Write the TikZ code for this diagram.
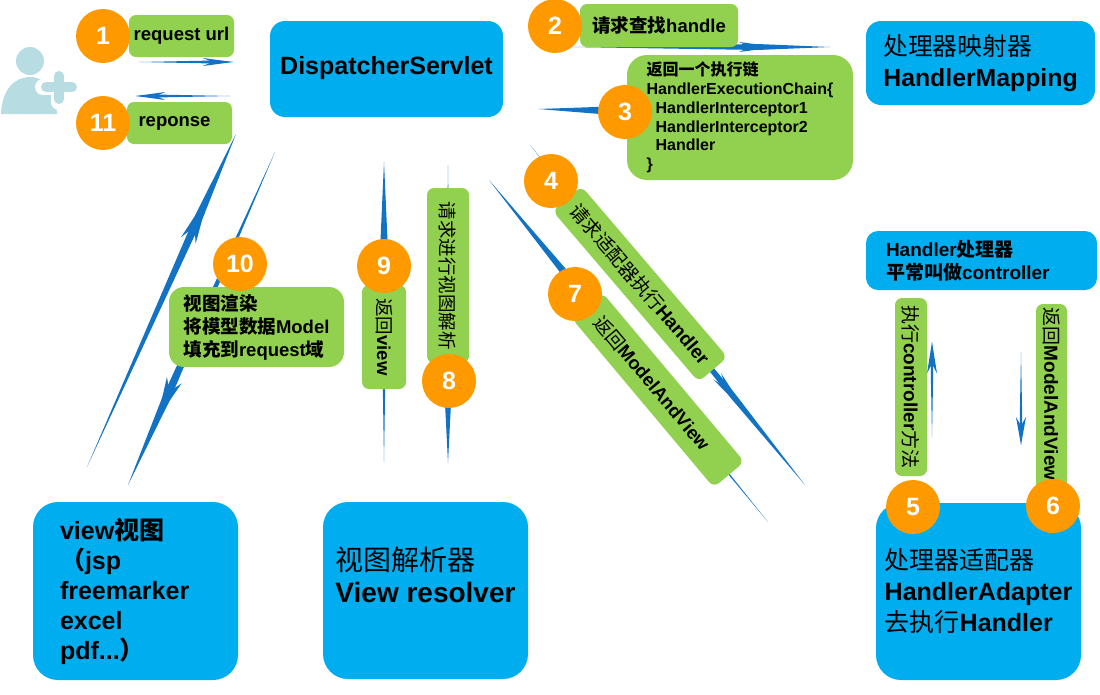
\documentclass[tikz,border=0pt]{standalone}
\usepackage{fontspec}
\setmainfont{Liberation Sans}
\newfontfamily\cjk{Noto Sans CJK SC}
\usetikzlibrary{calc}

\definecolor{boxblue}{HTML}{00AEEF}
\definecolor{boxgreen}{HTML}{92D050}
\definecolor{dotorange}{HTML}{FF9900}
\definecolor{linkblue}{HTML}{1272C4}
\definecolor{usercyan}{HTML}{B7DDE3}

\newcommand{\zh}[1]{{\cjk #1}}
\newcommand{\zhm}[1]{{\cjk\mdseries #1}}
\newcommand{\fsz}[2]{\fontsize{#1}{#2}\selectfont\bfseries}
% tapered link: ends, place of the thickest part, half width
\newcommand{\taper}[4]{\fill[linkblue] (#1) -- ($(#1)!#3!(#2)!#4!90:(#2)$) -- (#2) -- ($(#1)!#3!(#2)!#4!-90:(#2)$) -- cycle;}
% head on such a link: ends, place of barbs, place of tip, half width
\newcommand{\headon}[5]{\fill[linkblue] ($(#1)!#3!(#2)!#5!90:(#2)$) -- ($(#1)!#4!(#2)$) -- ($(#1)!#3!(#2)!#5!-90:(#2)$) -- ($(#1)!{#3+0.3*(#4-#3)}!(#2)$) -- cycle;}

\tikzset{
  bluebox/.style={shape=rectangle,fill=boxblue,rounded corners=15pt,align=left,inner sep=0pt},
  greenbox/.style={shape=rectangle,fill=boxgreen,rounded corners=7pt,align=left,inner sep=0pt,font=\fsz{18.5}{23}},
  numdot/.style={shape=circle,fill=dotorange,text=white,minimum size=54pt,inner sep=0pt,font=\fsz{25}{25}}
}

\begin{document}
\begin{tikzpicture}[x=1pt,y=-1pt]
  \useasboundingbox (0,0) rectangle (1100,694);

  % user
  \fill[usercyan] (30,61) circle (14);
  \fill[usercyan] (1,114) .. controls (2,90) and (14,77) .. (30,77) .. controls (46,77) and (56,92) .. (57,114) -- cycle;
  \draw[white,line width=16pt,line cap=round] (43,87) -- (73,87) (59,72) -- (59,102);
  \draw[usercyan,line width=10pt,line cap=round] (46,87) -- (72,87) (59,76) -- (59,99);

  % link ends
  \coordinate (l1a) at (139,62);   \coordinate (l1b) at (233,62);
  \coordinate (l11a) at (230,96);  \coordinate (l11b) at (136,96);
  \coordinate (l2a) at (570,47);   \coordinate (l2b) at (830,47);
  \coordinate (l3a) at (625,111);  \coordinate (l3b) at (538,109);
  \coordinate (l4a) at (530,145);  \coordinate (l4b) at (805,485);
  \coordinate (l5a) at (932,437);  \coordinate (l5b) at (932,342);
  \coordinate (l6a) at (1021,352); \coordinate (l6b) at (1021,445);
  \coordinate (l7a) at (768,522);  \coordinate (l7b) at (489,180);
  \coordinate (l8a) at (448,165);  \coordinate (l8b) at (448,463);
  \coordinate (l9a) at (384,462);  \coordinate (l9b) at (384,162);
  \coordinate (l10a) at (275,152); \coordinate (l10b) at (128,485);
  \coordinate (l12a) at (87,467);  \coordinate (l12b) at (236,134);

  \taper{l1a}{l1b}{0.8}{1.5pt}     \headon{l1a}{l1b}{0.68}{1}{4pt}
  \taper{l11a}{l11b}{0.8}{1.5pt}   \headon{l11a}{l11b}{0.69}{1}{4pt}
  \taper{l2a}{l2b}{0.72}{3pt}      \headon{l2a}{l2b}{0.65}{0.8}{5pt}
  \taper{l3a}{l3b}{0.3}{3.5pt}
  \taper{l4a}{l4b}{0.74}{3pt}      \headon{l4a}{l4b}{0.68}{0.79}{5pt}
  \taper{l5a}{l5b}{0.67}{1.2pt}    \headon{l5a}{l5b}{0.67}{1}{5pt}
  \taper{l6a}{l6b}{0.7}{1.2pt}     \headon{l6a}{l6b}{0.7}{1}{5pt}
  \taper{l7a}{l7b}{0.72}{3.5pt}
  \taper{l8a}{l8b}{0.8}{3pt}
  \taper{l9a}{l9b}{0.74}{3.5pt}
  \taper{l10a}{l10b}{0.745}{4pt}   \headon{l10a}{l10b}{0.685}{0.8}{8pt}
  \taper{l12a}{l12b}{0.757}{4pt}   \headon{l12a}{l12b}{0.68}{0.82}{8pt}

  % big boxes
  \node[bluebox,minimum width=233pt,minimum height=96pt,font=\fsz{25}{30}] (dispatcher) at (386.5,69) {\raisebox{8pt}{DispatcherServlet}};
  \node[bluebox,minimum width=229pt,minimum height=84pt,font=\fsz{24.8}{31}] (mapping) at (980.5,63) {\zhm{处理器映射器}\\HandlerMapping};
  \node[bluebox,rounded corners=12pt,minimum width=231pt,minimum height=59pt,font=\fsz{19}{23},text width=191pt] (handler) at (981.5,260.5) {Handler\zh{处理器}\\\zh{平常叫做}controller};
  \node[bluebox,rounded corners=25pt,minimum width=205pt,minimum height=177pt,font=\fsz{25}{31}] (adapter) at (978.5,591.5) {\zhm{处理器适配器}\\HandlerAdapter\\\zhm{去执行}Handler};
  \node[bluebox,rounded corners=25pt,minimum width=205pt,minimum height=177pt,font=\fsz{28}{32}] (resolver) at (425.5,590.5) {\zhm{视图解析器}\\View resolver\\\mbox{}};
  \node[bluebox,rounded corners=25pt,minimum width=205pt,minimum height=178pt,font=\fsz{25}{30},text width=151pt] (viewbox) at (135.5,591) {view\zh{视图}\\\zh{（}jsp\\freemarker\\excel\\pdf...\zh{）}};

  % labels
  \node[greenbox,minimum width=105pt,minimum height=42pt] (urlbox) at (181.5,36) {request url};
  \node[greenbox,minimum width=105pt,minimum height=42pt] (reponsebox) at (179.5,123) {reponse\hspace*{10pt}};
  \node[greenbox,minimum width=158pt,minimum height=43pt] (findbox) at (659,25.5) {\zh{请求查找}handle};
  \node[greenbox,rounded corners=20pt,minimum width=226pt,minimum height=125pt,font=\fsz{16}{18.7}] (chainbox) at (740,117.5) {\zh{返回一个执行链}\\HandlerExecutionChain\{\\\hspace*{9pt}HandlerInterceptor1\\\hspace*{9pt}HandlerInterceptor2\\\hspace*{9pt}Handler\\\}};
  \node[greenbox,rotate=-49.5,minimum width=225pt,minimum height=38pt,font=\fsz{19}{23}] (adaptbox) at (640,284) {\zhm{请求适配器执行}Handler};
  \node[greenbox,rotate=-50,minimum width=221pt,minimum height=40pt,font=\fsz{18.5}{23}] (mavbox) at (658,390) {\zhm{返回}ModelAndView\hspace*{18pt}};
  \node[greenbox,minimum width=175pt,minimum height=80pt,rounded corners=15pt] (renderbox) at (256.5,327) {\zh{视图渲染}\\\zh{将模型数据}Model\\\zh{填充到}request\zh{域}};
  \node[greenbox,rotate=-90,minimum width=104pt,minimum height=44pt] (backbox) at (384,337) {\zhm{返回}view};
  \node[greenbox,rotate=-90,minimum width=175pt,minimum height=42pt] (parsebox) at (448,275.5) {\zhm{请求进行视图解析}};
  \node[greenbox,rotate=-90,minimum width=178pt,minimum height=32pt,font=\fsz{19}{23}] (runbox) at (911,387) {\zhm{执行}controller\zhm{方法}};
  \node[greenbox,rotate=-90,minimum width=196pt,minimum height=31pt,font=\fsz{19}{23}] (retbox) at (1051.5,402) {\zhm{返回}ModelAndView\hspace*{16pt}};

  % numbers
  \node[numdot] (n1) at (103,36) {1};
  \node[numdot] (n2) at (555,26) {2};
  \node[numdot] (n3) at (625,112) {3};
  \node[numdot] (n4) at (551,181) {4};
  \node[numdot] (n5) at (913,507) {5};
  \node[numdot] (n6) at (1053,506) {6};
  \node[numdot] (n7) at (575,294) {7};
  \node[numdot] (n8) at (449,381) {8};
  \node[numdot] (n9) at (384,266) {9};
  \node[numdot] (n10) at (240,264) {10};
  \node[numdot] (n11) at (103,123) {11};
\end{tikzpicture}
\end{document}
